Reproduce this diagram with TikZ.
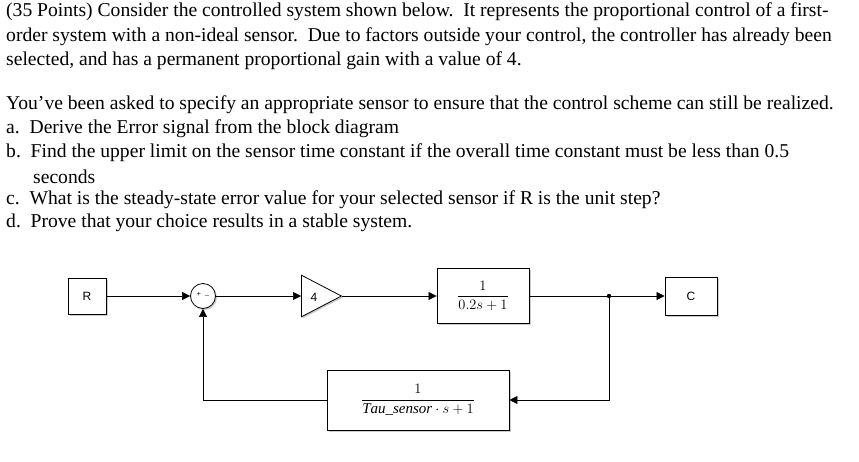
\documentclass[tikz,border=0pt]{standalone}
\usepackage{amsmath}
\usepackage{fontspec}
\setmainfont{Liberation Serif}
\newfontfamily\sansf{Liberation Sans}
\usetikzlibrary{arrows.meta,shapes.geometric,shadows}
\begin{document}
\begin{tikzpicture}[x=1pt,y=-1pt,
  txt/.style={anchor=west,inner sep=0,font=\fontsize{19.6}{22}\selectfont},
  blk/.style={draw,fill=white,line width=0.8pt,drop shadow={shadow xshift=1.5pt,shadow yshift=-1.5pt,opacity=0.4}},
  sf/.style={font=\sansf\fontsize{12}{14}\selectfont},
  mf/.style={font=\fontsize{15}{18}\selectfont},
  wire/.style={line width=0.6pt},
  arr/.style={wire,-{Triangle[length=8pt,width=8pt]}}]
\useasboundingbox (0,0) rectangle (859,461);
\node[txt] (t1) at (6,12) {(35 Points) Consider the controlled system shown below.\ \ It represents the proportional control of a first-};
\node[txt] (t2) at (6,37) {order system with a non-ideal sensor.\ \ Due to factors outside your control, the controller has already been};
\node[txt] (t3) at (6,61) {selected, and has a permanent proportional gain with a value of 4.};
\node[txt] (t4) at (6,105) {You've been asked to specify an appropriate sensor to ensure that the control scheme can still be realized.};
\node[txt] (t5) at (6,129) {a.\ \ Derive the Error signal from the block diagram};
\node[txt] (t6) at (6,153) {b.\ \ Find the upper limit on the sensor time constant if the overall time constant must be less than 0.5};
\node[txt] (t7) at (33,177) {seconds};
\node[txt] (t8) at (6,200) {c.\ \ What is the steady-state error value for your selected sensor if R is the unit step?};
\node[txt] (t9) at (6,223) {d.\ \ Prove that your choice results in a stable system.};
% diagram
\node[blk,sf,minimum width=38pt,minimum height=36pt] (R) at (87,296) {R};
\node[blk,circle,minimum size=25pt,inner sep=0] (S) at (203,296) {};
\node[font=\sansf\scriptsize] at (199,294) {+};
\node[font=\sansf\scriptsize] at (207,295) {\_};
\node[blk,isosceles triangle,isosceles triangle apex angle=55,minimum height=40pt,inner sep=0,anchor=west] (K) at (301,296) {};
\node[sf] at (314,297) {4};
\node[blk,mf,minimum width=92pt,minimum height=55pt] (P) at (483,296) {$\dfrac{1}{0.2s+1}$};
\coordinate (B) at (609,296);
\node[blk,sf,minimum width=52pt,minimum height=38pt] (C) at (691,296) {C};
\node[blk,mf,minimum width=182pt,minimum height=60pt] (H) at (418,400) {$\dfrac{1}{\mathit{Tau\_sensor}\cdot s+1}$};
\draw[arr] (R.east) -- (S.west);
\draw[arr] (S.east) -- (K.west);
\draw[arr] (K.apex) -- (P.west);
\draw[wire] (P.east) -- (B);
\draw[arr] (B) -- (C.west);
\fill (B) circle (2.2pt);
\draw[arr] (B) |- (H.east);
\draw[arr] (H.west) -| (S.south);
\end{tikzpicture}
\end{document}
